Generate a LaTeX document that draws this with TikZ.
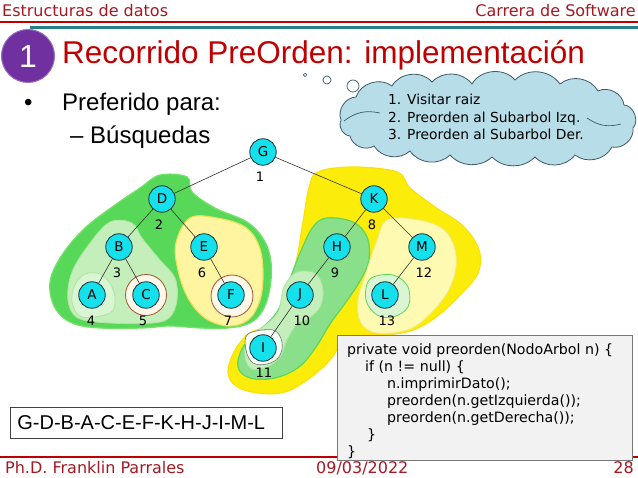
\documentclass[tikz,border=0pt]{standalone}
\usepackage{fontspec}
\setmainfont{Liberation Sans}
\newfontfamily\dvs{DejaVu Sans}
\definecolor{hdrred}{RGB}{165,25,35}
\definecolor{linered}{RGB}{192,0,0}
\definecolor{teal2}{RGB}{38,128,140}
\definecolor{purp}{RGB}{112,48,160}
\definecolor{titred}{RGB}{192,0,0}
\definecolor{cyannode}{RGB}{20,225,235}
\definecolor{nodeline}{RGB}{30,50,60}
\definecolor{bigG}{RGB}{88,216,88}
\definecolor{bigGe}{RGB}{115,226,105}
\definecolor{lightG}{RGB}{196,238,186}
\definecolor{lightGe}{RGB}{172,230,160}
\definecolor{paleG}{RGB}{218,245,212}
\definecolor{cream}{RGB}{255,248,232}
\definecolor{ringbr}{RGB}{160,85,55}
\definecolor{paleY}{RGB}{255,245,160}
\definecolor{paleYe}{RGB}{236,224,95}
\definecolor{bigY}{RGB}{252,236,10}
\definecolor{midG}{RGB}{138,224,138}
\definecolor{midGe}{RGB}{92,214,92}
\definecolor{mpaleY}{RGB}{255,250,178}
\definecolor{cloudblue}{RGB}{183,222,232}
\definecolor{cloudline}{RGB}{60,90,105}
\definecolor{codefill}{RGB}{242,242,242}
\definecolor{codeline}{RGB}{120,120,120}
\begin{document}
\begin{tikzpicture}[x=1pt,y=-1pt,
  tnode/.style={circle,draw=nodeline,line width=0.8pt,fill=cyannode,minimum size=26.5pt,inner sep=0pt,font=\dvs\fontsize{13.5}{14}\selectfont},
  numlab/.style={inner sep=0pt,font=\dvs\fontsize{13}{14}\selectfont},
  edge/.style={draw=black!80,line width=0.6pt},
  blob/.style={line width=1.2pt},
  codetxt/.style={anchor=base west,inner sep=0pt,font=\dvs\fontsize{14.2}{17}\selectfont},
  cloudtxt/.style={anchor=base west,inner sep=0pt,font=\dvs\fontsize{13.8}{15}\selectfont},
  hdr/.style={inner sep=0pt,text=hdrred,font=\dvs\fontsize{16}{18}\selectfont}]
\useasboundingbox (0,0) rectangle (638,478);
\fill[white] (0,0) rectangle (638,478);

% header
\node[hdr,anchor=base west] (h1) at (2,17) {Estructuras de datos};
\node[hdr,anchor=base east] (h2) at (636,17) {Carrera de Software};
\draw[linered,line width=2pt] (0,22) -- (638,22);
\draw[teal2,line width=2.5pt] (30,27.5) -- (638,27.5);

% title
\node[circle,fill=purp,draw=purp!70!white,line width=1pt,minimum size=53pt,inner sep=0pt,text=white,font=\fontsize{32}{32}\selectfont] (num) at (28,56) {1};
\node[anchor=base west,inner sep=0pt,text=titred,font=\fontsize{31.5}{34}\selectfont] (title) at (62,64) {Recorrido PreOrden: implementación};

% bullets
\node[anchor=base west,inner sep=0pt,font=\fontsize{24}{26}\selectfont] (b1) at (24,111) {•};
\node[anchor=base west,inner sep=0pt,font=\fontsize{24}{26}\selectfont] (b1t) at (62,111) {Preferido para:};
\node[anchor=base west,inner sep=0pt,font=\fontsize{24}{26}\selectfont] (b2) at (70,144) {–};
\node[anchor=base west,inner sep=0pt,font=\fontsize{24}{26}\selectfont] (b2t) at (90,144) {Búsquedas};

% thought cloud
\draw[draw=cloudline,line width=0.8pt,fill=cloudblue]
  (341,120) to[bend left=55] (356,97) to[bend left=55] (392,86) to[bend left=55] (432,82)
  to[bend left=50] (472,84) to[bend left=55] (515,80) to[bend left=50] (560,84)
  to[bend left=50] (598,91) to[bend left=55] (624,105) to[bend left=65] (633,128)
  to[bend left=55] (612,147) to[bend left=50] (575,155) to[bend left=50] (535,157)
  to[bend left=45] (492,157) to[bend left=45] (450,155) to[bend left=50] (410,151)
  to[bend left=50] (374,146) to[bend left=55] (350,136) to[bend left=55] (341,120) -- cycle;
\draw[draw=cloudline,line width=0.7pt] (344,121) to[bend left=25] (380,113);
\draw[draw=cloudline,line width=0.7pt] (587,118) to[bend right=25] (621,124);
\node[circle,draw=cloudline,line width=0.7pt,fill=white,minimum size=3.5pt,inner sep=0pt] (t1) at (305,75) {};
\node[circle,draw=cloudline,line width=0.7pt,fill=white,minimum size=8pt,inner sep=0pt] (t2) at (327,80) {};
\node[circle,draw=cloudline,line width=0.7pt,fill=white,minimum size=12pt,inner sep=0pt] (t3) at (353,86) {};
\node[cloudtxt] (ct1) at (388,105) {1. Visitar raiz};
\node[cloudtxt] (ct2) at (388,123) {2. Preorden al Subarbol Izq.};
\node[cloudtxt] (ct3) at (388,140) {3. Preorden al Subarbol Der.};

% blobs left (D subtree)
\draw[blob,fill=bigG,draw=bigGe] plot[smooth cycle,tension=0.6] coordinates {(160,175) (187,177) (192,192) (215,208) (247,222) (264,240) (271,262) (270,288) (263,310) (250,323) (228,328) (200,328) (170,326) (143,328) (100,328) (72,323) (55,308) (50,282) (62,255) (85,228) (115,205) (140,188)};
\draw[blob,fill=lightG,draw=lightGe,line width=0.8pt] plot[smooth cycle,tension=0.6] coordinates {(110,222) (132,223) (142,238) (160,260) (175,278) (177,300) (170,317) (153,323) (110,323) (78,318) (68,300) (72,272) (90,243)};
\draw[fill=paleG,draw=lightGe,line width=0.8pt] plot[smooth cycle,tension=0.6] coordinates {(85,274) (100,274) (111,285) (115,300) (110,313) (82,317) (72,302) (75,285)};
\draw[fill=cream,draw=ringbr,line width=0.8pt] (146,295) circle[radius=20.5];
\draw[blob,fill=paleY,draw=paleYe] plot[smooth cycle,tension=0.6] coordinates {(190,218) (217,218) (245,227) (259,246) (263,272) (260,300) (248,320) (228,326) (205,318) (188,298) (178,270) (176,243)};
\draw[fill=cream,draw=ringbr,line width=0.8pt] (232,296) circle[radius=21];

% blobs right (K subtree)
\draw[blob,fill=bigY,draw=bigY!90!orange] plot[smooth cycle,tension=0.6] coordinates {(318,172) (353,167) (397,172) (410,188) (435,207) (463,226) (479,250) (478,273) (461,294) (440,314) (418,328) (395,334) (362,335) (343,342) (330,360) (310,378) (285,392) (258,393) (236,386) (228,372) (234,352) (248,334) (265,326) (283,306) (296,262) (303,222) (309,188)};
\draw[blob,fill=midG,draw=midGe] plot[smooth cycle,tension=0.6] coordinates {(327,218) (353,222) (367,237) (369,260) (360,281) (346,302) (330,324) (316,347) (299,367) (275,378) (250,378) (238,367) (243,347) (260,330) (277,312) (287,287) (300,253) (313,227)};
\draw[fill=lightG,draw=lightGe,line width=0.8pt] plot[smooth cycle,tension=0.6] coordinates {(297,272) (316,274) (323,290) (320,307) (309,318) (297,324) (287,340) (280,357) (267,367) (252,369) (245,357) (248,337) (263,327) (278,312) (284,287)};
\draw[fill=white!96!green,draw=black!55,line width=0.6pt] plot[smooth cycle,tension=0.6] coordinates {(248,334) (273,330) (282,342) (279,357) (267,364) (253,363) (246,350)};
\draw[blob,fill=mpaleY,draw=paleYe!70!white,line width=0.8pt] plot[smooth cycle,tension=0.6] coordinates {(387,220) (413,219) (440,227) (453,243) (456,267) (447,293) (427,317) (407,330) (377,333) (361,323) (358,300) (367,270) (377,240)};
\draw[fill=paleG,draw=midGe,line width=0.8pt] plot[smooth cycle,tension=0.6] coordinates {(370,279) (393,275) (408,287) (408,307) (393,317) (377,315) (366,300)};

% tree nodes
\node[tnode] (G) at (263,152) {G};
\node[tnode] (D) at (162,199) {D};
\node[tnode] (B) at (119,247) {B};
\node[tnode] (E) at (204,247) {E};
\node[tnode] (A) at (92,295) {A};
\node[tnode] (C) at (146,295) {C};
\node[tnode] (F) at (231,295) {F};
\node[tnode] (K) at (374,199) {K};
\node[tnode] (H) at (337,247) {H};
\node[tnode] (M) at (422,247) {M};
\node[tnode] (J) at (300,295) {J};
\node[tnode] (L) at (385,295) {L};
\node[tnode] (I) at (263,348) {I};

\foreach \a/\b in {G/D,G/K,D/B,D/E,B/A,B/C,E/F,K/H,K/M,H/J,J/I,M/L}{\path[edge] (\a) -- (\b);}

% labels
\node[numlab] (lG) at (260,177) {1};
\node[numlab] (lD) at (159,225) {2};
\node[numlab] (lB) at (117,273) {3};
\node[numlab] (lE) at (202,273) {6};
\node[numlab] (lA) at (91,321) {4};
\node[numlab] (lC) at (143,321) {5};
\node[numlab] (lF) at (228,321) {7};
\node[numlab] (lK) at (372,225) {8};
\node[numlab] (lH) at (335,273) {9};
\node[numlab] (lM) at (424,273) {12};
\node[numlab] (lJ) at (302,321) {10};
\node[numlab] (lL) at (387,321) {13};
\node[numlab] (lI) at (264,373) {11};

% sequence box
\node[draw=black!75,line width=0.8pt,anchor=north west,minimum width=272pt,minimum height=31pt,text width=258pt,inner xsep=7pt,align=left,font=\fontsize{20}{22}\selectfont] (seq) at (10,407) {G-D-B-A-C-E-F-K-H-J-I-M-L};

% footer
\draw[linered,line width=2pt] (0,457) -- (638,457);
\node[hdr,anchor=base west] (f1) at (5,474) {Ph.D. Franklin Parrales};
\node[hdr,anchor=base west] (f2) at (316,474) {09/03/2022};
\node[hdr,anchor=base east] (f3) at (634,474) {28};

% code box
\node[draw=codeline,line width=1.2pt,fill=codefill,anchor=north west,minimum width=295pt,minimum height=125pt,inner sep=0pt] (code) at (337,335) {};
\node[codetxt] (c1) at (347,355) {private void preorden(NodoArbol n) \{};
\node[codetxt] (c2) at (365,372) {if (n != null) \{};
\node[codetxt] (c3) at (387,389) {n.imprimirDato();};
\node[codetxt] (c4) at (387,406) {preorden(n.getIzquierda());};
\node[codetxt] (c5) at (387,423) {preorden(n.getDerecha());};
\node[codetxt] (c6) at (367,440) {\}};
\node[codetxt] (c7) at (347,457) {\}};
\end{tikzpicture}
\end{document}
